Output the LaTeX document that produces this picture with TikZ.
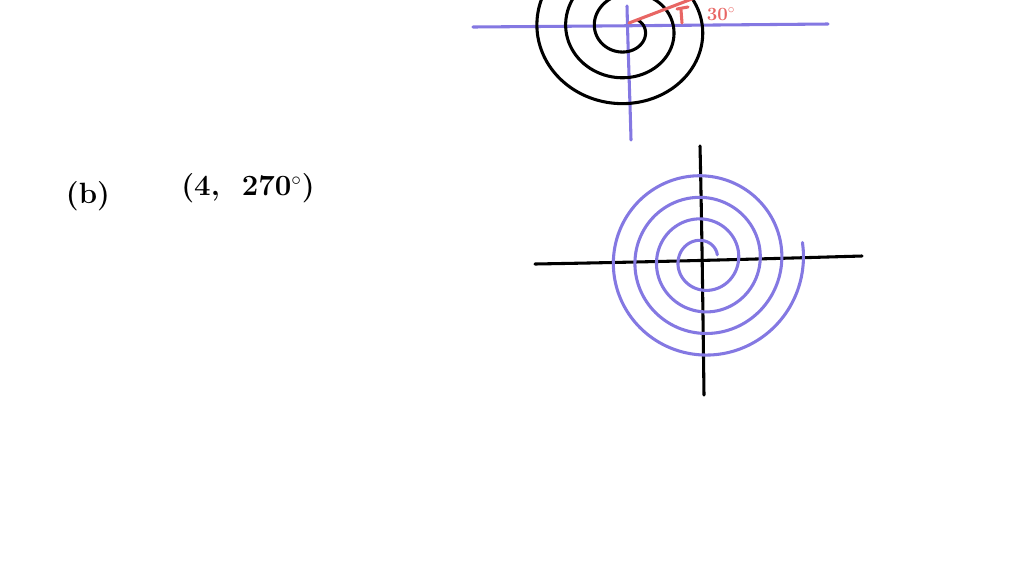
\documentclass[tikz,border=0pt]{standalone}
\usepackage{amsmath,amssymb}
\usepackage{xcolor}

\definecolor{penblue}{RGB}{132,120,226}
\definecolor{penred}{RGB}{232,102,100}

\begin{document}
\begin{tikzpicture}[x=0.75pt,y=0.75pt,yscale=-1,xscale=1,
  inkblack/.style={draw=black,line width=2.3pt,line cap=round,line join=round},
  inkblue/.style={draw=penblue,line width=2.3pt,line cap=round,line join=round},
  inkred/.style={draw=penred,line width=2.3pt,line cap=round,line join=round}]

\useasboundingbox (0,0) rectangle (1024,576);
\clip (0,0) rectangle (1024,576);

% top sketch: blue axes, black spiral, red angle
\draw [inkblue]  (473,27) .. controls (600,26) and (720,25) .. (828,24) ;
\draw [inkblue]  (627,6) .. controls (628,50) and (630,100) .. (631,140) ;
\draw [inkblack] plot [domain=-40:1000, samples=260, smooth, variable=\a]
  ({627+(18+0.08*\a)*cos(\a)}, {29+0.9*(18+0.08*\a)*sin(\a)}) ;
\draw [inkred]   (629,23) -- (697,-3) ;
\draw [inkred]   (682,23) -- (681,10) ;
\draw [inkred]   (677,9) -- (688,7) ;

% bottom sketch: black axes, blue spiral
\draw [inkblack] (535,264) .. controls (650,262) and (760,259) .. (862,256) ;
\draw [inkblack] (700,146) .. controls (702,230) and (703,320) .. (704,395) ;
\draw [inkblue]  plot [domain=20:1450, samples=360, smooth, variable=\s]
  ({703+(14+0.06*\s)*cos(-\s)}, {260+(14+0.06*\s)*sin(-\s)}) ;

\draw (721,14) node [inner sep=0.75pt, text=penred] (angtxt) {\fontsize{14}{16}\selectfont\bfseries 30$^\circ$};
\draw (88,196) node [inner sep=0.75pt] (partb) {\fontsize{22}{26}\selectfont\bfseries (b)};
\draw (248,188) node [inner sep=0.75pt] (pointb) {\fontsize{22}{26}\selectfont\bfseries (4,\ \ 270$^\circ$)};

\end{tikzpicture}
\end{document}
